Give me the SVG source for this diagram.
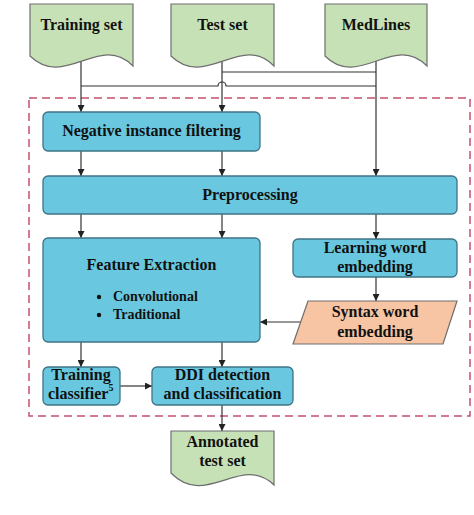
<svg xmlns="http://www.w3.org/2000/svg" width="474" height="515" viewBox="0 0 474 515">
<style>
.doc{fill:#c7e1b6;stroke:#6e6e6e;stroke-width:1.2}
.box{fill:#69c8df;stroke:#3f7385;stroke-width:1.3}
.para{fill:#f7c4a4;stroke:#6e6e6e;stroke-width:1.2}
.t{font-family:"Liberation Serif","Times New Roman",serif;font-weight:bold;font-size:16px;fill:#111;text-anchor:middle}
.s{font-size:14px;text-anchor:start}
.c{fill:none;stroke:#333;stroke-width:1.2}
.a{marker-end:url(#ah)}
.frame{fill:none;stroke:#c4506e;stroke-width:1.5;stroke-dasharray:8 5}
</style>
<defs>
<marker id="ah" markerUnits="userSpaceOnUse" markerWidth="7" markerHeight="7" refX="7" refY="3.5" orient="auto">
<path d="M0,0 L7,3.5 L0,7 Z" fill="#222"/>
</marker>
</defs>
<rect class="frame" x="29" y="98" width="441" height="318"/>
<g id="connectors">
<path class="c a" d="M81,58 V112"/>
<path class="c a" d="M222,58 V112"/>
<path class="c a" d="M376,58 V176"/>
<path class="c" d="M222,72 H376"/>
<path class="c" d="M81,86 H218 A4,4 0 0 1 226,86 H376"/>
<path class="c a" d="M81,151 V176"/>
<path class="c a" d="M222,151 V176"/>
<path class="c a" d="M81,214 V238"/>
<path class="c a" d="M222,214 V238"/>
<path class="c a" d="M376,214 V239"/>
<path class="c a" d="M376,277 V301"/>
<path class="c a" d="M301,322 H260"/>
<path class="c a" d="M81,342 V367"/>
<path class="c a" d="M222,342 V367"/>
<path class="c a" d="M120,386 H152"/>
<path class="c a" d="M222,405 V431"/>
</g>
<g id="training-set">
<path class="doc" d="M30,4 H133 V66 C100,32 65,90 30,56 Z"/>
<text class="t" x="81.5" y="30">Training set</text>
</g>
<g id="test-set">
<path class="doc" d="M171,4 H274 V66 C241,32 206,90 171,56 Z"/>
<text class="t" x="222.5" y="30">Test set</text>
</g>
<g id="medlines">
<path class="doc" d="M325,4 H427 V66 C394,32 359,90 325,56 Z"/>
<text class="t" x="376" y="30">MedLines</text>
</g>
<g id="negative-filtering">
<rect class="box" x="43" y="112" width="217" height="39" rx="5"/>
<text class="t" x="151.5" y="136">Negative instance filtering</text>
</g>
<g id="preprocessing">
<rect class="box" x="43" y="176" width="414" height="38" rx="5"/>
<text class="t" x="250" y="200">Preprocessing</text>
</g>
<g id="feature-extraction">
<rect class="box" x="43" y="238" width="217" height="104" rx="5"/>
<text class="t" x="151.5" y="270">Feature Extraction</text>
<circle cx="99" cy="297" r="2.2" fill="#111"/>
<circle cx="99" cy="315" r="2.2" fill="#111"/>
<text class="t s" x="113" y="301">Convolutional</text>
<text class="t s" x="113" y="319">Traditional</text>
</g>
<g id="learning-word-embedding">
<rect class="box" x="293" y="239" width="164" height="38" rx="5"/>
<text class="t" x="375" y="253">Learning word</text>
<text class="t" x="375" y="272">embedding</text>
</g>
<g id="syntax-word-embedding">
<polygon class="para" points="308,301 457,301 443,344 293,344"/>
<text class="t" x="375" y="317">Syntax word</text>
<text class="t" x="375" y="337">embedding</text>
</g>
<g id="training-classifier">
<rect class="box" x="43" y="367" width="77" height="38" rx="5"/>
<text class="t" x="81" y="380">Training</text>
<text class="t" x="48" y="399" style="text-anchor:start">classifier<tspan font-size="10" dy="-8">5</tspan></text>
</g>
<g id="ddi-detection">
<rect class="box" x="152" y="367" width="141" height="38" rx="5"/>
<text class="t" x="222.5" y="380">DDI detection</text>
<text class="t" x="222.5" y="399">and classification</text>
</g>
<g id="annotated-test-set">
<path class="doc" d="M171,431 H274 V485 C241,453 206,509 171,473 Z"/>
<text class="t" x="222.5" y="447">Annotated</text>
<text class="t" x="222.5" y="466">test set</text>
</g>
</svg>
